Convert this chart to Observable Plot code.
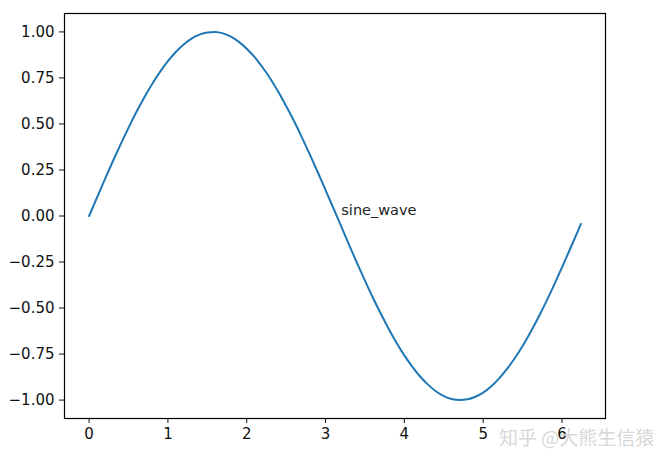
<!DOCTYPE html>
<html>
<head>
<meta charset="utf-8">
<script src="https://cdn.jsdelivr.net/npm/d3@7"></script>
<script src="https://cdn.jsdelivr.net/npm/@observablehq/plot@0.6"></script>
<style>
  body { margin: 0; background: #fff; }
  #wrap { position: relative; width: 669px; height: 465px; }
  #wm { position: absolute; left: 499px; top: 423px; font: 19px "Noto Sans CJK SC", sans-serif; color: #d8d8d8; }
</style>
</head>
<body>
<div id="wrap"><div id="chart"></div><div id="wm">知乎 @大熊生信猿</div></div>
<script>
const xs = [0.0, 0.1, 0.2, 0.3, 0.4, 0.5, 0.6, 0.7, 0.8, 0.9, 1.0, 1.1, 1.2, 1.3, 1.4, 1.5, 1.6, 1.7, 1.8, 1.9, 2.0, 2.1, 2.2, 2.3, 2.4, 2.5, 2.6, 2.7, 2.8, 2.9, 3.0, 3.1, 3.2, 3.3, 3.4, 3.5, 3.6, 3.7, 3.8, 3.9, 4.0, 4.1, 4.2, 4.3, 4.4, 4.5, 4.6, 4.7, 4.8, 4.9, 5.0, 5.1, 5.2, 5.3, 5.4, 5.5, 5.6, 5.7, 5.8, 5.9, 6.0, 6.1, 6.2, 6.24];
const ys = [0.000, 0.100, 0.199, 0.296, 0.389, 0.479, 0.565, 0.644, 0.717, 0.783, 0.841, 0.891, 0.932, 0.964, 0.985, 0.997, 1.000, 0.992, 0.974, 0.946, 0.909, 0.863, 0.808, 0.746, 0.675, 0.598, 0.516, 0.427, 0.335, 0.239, 0.141, 0.042, -0.058, -0.158, -0.256, -0.351, -0.443, -0.530, -0.612, -0.688, -0.757, -0.818, -0.872, -0.916, -0.952, -0.978, -0.994, -1.000, -0.996, -0.982, -0.959, -0.926, -0.883, -0.832, -0.773, -0.706, -0.631, -0.551, -0.465, -0.374, -0.279, -0.182, -0.083, -0.043];
const xTicks = [0, 1, 2, 3, 4, 5, 6];
const yTicks = [-1.00, -0.75, -0.50, -0.25, 0.00, 0.25, 0.50, 0.75, 1.00];
const label = {x: 3.2, y: 0, text: "sine_wave"};

const data = xs.map((x, i) => ({x, y: ys[i]}));

const chart = Plot.plot({
  width: 669,
  height: 465,
  marginLeft: 64,
  marginRight: 64,
  marginTop: 13,
  marginBottom: 47,
  style: {fontFamily: "DejaVu Sans", fontSize: "15px", color: "#111", background: "#fff"},
  x: {domain: [-0.312, 6.552], ticks: xTicks, tickFormat: d3.format("d"), tickSize: 5, tickPadding: 5, label: null},
  y: {domain: [-1.1, 1.1], ticks: yTicks, tickFormat: d3.format(".2f"), tickSize: 5, tickPadding: 5, label: null},
  marks: [
    Plot.line(data, {x: "x", y: "y", stroke: "#1f77b4", strokeWidth: 2, curve: "monotone-x"}),
    Plot.text([label], {x: "x", y: "y", text: "text", textAnchor: "start", dy: -6, fontSize: 14.5, fill: "#222"}),
    Plot.frame({stroke: "#000", strokeWidth: 1.2})
  ]
});
document.getElementById("chart").appendChild(chart);
</script>
</body>
</html>
